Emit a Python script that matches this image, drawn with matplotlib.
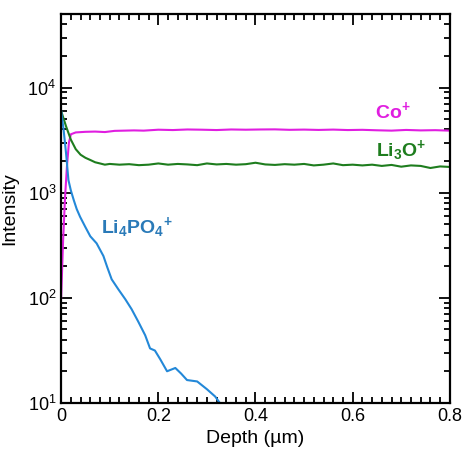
import matplotlib
matplotlib.use("Agg")
import matplotlib.pyplot as plt
from matplotlib.ticker import LogLocator, MultipleLocator, NullFormatter

plt.rcParams['font.family'] = ['Liberation Sans', 'DejaVu Sans']
plt.rcParams['mathtext.fontset'] = 'custom'
plt.rcParams['mathtext.rm'] = 'Liberation Sans'
plt.rcParams['mathtext.bf'] = 'Liberation Sans:bold'
plt.rcParams['mathtext.default'] = 'regular'

# Co+ (magenta)
co_x = [0, 0.004, 0.008, 0.012, 0.016, 0.02, 0.03, 0.05, 0.07, 0.09, 0.11, 0.13, 0.15,
        0.17, 0.2, 0.23, 0.26, 0.29, 0.32, 0.35, 0.38, 0.41, 0.44, 0.47, 0.5, 0.53,
        0.56, 0.59, 0.62, 0.65, 0.68, 0.71, 0.74, 0.77, 0.8]
co_y = [100, 350, 900, 1800, 3000, 3600, 3750, 3800, 3820, 3780, 3880, 3900, 3920,
        3900, 3980, 3950, 4000, 3980, 3950, 4000, 3980, 4000, 4010, 3970, 3990, 3960,
        3990, 3950, 3970, 3930, 3900, 3960, 3920, 3940, 3900]

# Li3O+ (green)
li3o_x = [0, 0.01, 0.02, 0.03, 0.04, 0.05, 0.06, 0.07, 0.08, 0.09, 0.1, 0.12, 0.14,
          0.16, 0.18, 0.2, 0.22, 0.24, 0.26, 0.28, 0.3, 0.32, 0.34, 0.36, 0.38, 0.4,
          0.42, 0.44, 0.46, 0.48, 0.5, 0.52, 0.54, 0.56, 0.58, 0.6, 0.62, 0.64, 0.66,
          0.68, 0.7, 0.72, 0.74, 0.76, 0.78, 0.8]
li3o_y = [6000, 4300, 3200, 2600, 2300, 2150, 2050, 1950, 1900, 1850, 1880, 1850, 1870,
          1830, 1850, 1900, 1850, 1880, 1860, 1830, 1900, 1860, 1880, 1850, 1870, 1930,
          1860, 1840, 1870, 1850, 1880, 1820, 1850, 1900, 1830, 1850, 1820, 1850, 1800,
          1840, 1770, 1820, 1800, 1720, 1780, 1760]

# Li4PO4+ (blue)
li4po4_x = [0, 0.005, 0.01, 0.015, 0.02, 0.026, 0.032, 0.039, 0.05, 0.06, 0.073,
            0.087, 0.095, 0.104, 0.118, 0.132, 0.145, 0.159, 0.173, 0.183, 0.193,
            0.204, 0.218, 0.235, 0.247, 0.259, 0.28, 0.3, 0.317, 0.33]
li4po4_y = [6000, 4000, 2400, 1320, 1050, 850, 700, 590, 470, 385, 330,
            250, 195, 150, 120, 97, 78, 59, 44, 33, 31.5,
            26, 20, 21.5, 19, 16.5, 16, 13.5, 11.5, 9.5]

fig = plt.figure(figsize=(4.74, 4.74), dpi=100)
ax = fig.add_axes([0.129, 0.150, 0.820, 0.820])

ax.plot(co_x, co_y, color='#e01ee0', lw=1.5)
ax.plot(li3o_x, li3o_y, color='#1e7d1e', lw=1.5)
ax.plot(li4po4_x, li4po4_y, color='#2388d8', lw=1.5)

ax.set_yscale('log')
ax.set_xlim(0, 0.8)
ax.set_ylim(10, 5e4)
ax.xaxis.set_minor_locator(MultipleLocator(0.02))
ax.yaxis.set_major_locator(LogLocator(base=10, numticks=10))
ax.yaxis.set_minor_locator(LogLocator(base=10, subs=range(2, 10), numticks=10))
ax.yaxis.set_minor_formatter(NullFormatter())
ax.set_xticks([0, 0.2, 0.4, 0.6, 0.8], ['0', '0.2', '0.4', '0.6', '0.8'])

ax.tick_params(which='both', direction='in', top=True, right=True, width=1.3,
               labelsize=13)
ax.tick_params(which='major', length=8)
ax.tick_params(which='minor', length=4)
for s in ax.spines.values():
    s.set_linewidth(1.6)

ax.set_xlabel('Depth (µm)', fontsize=14)
ax.set_ylabel('Intensity', fontsize=14)
ax.yaxis.set_label_coords(-0.11, 0.5)

ax.text(0.683, 6000, r'$\mathbf{Co^{+}}$', color='#e01ee0', fontsize=14,
        ha='center', va='center')
ax.text(0.70, 2500, r'$\mathbf{Li_{3}O^{+}}$', color='#1e7d1e', fontsize=14,
        ha='center', va='center')
ax.text(0.155, 465, r'$\mathbf{Li_{4}PO_{4}}$$\mathbf{^{+}}$', color='#2a7ab8',
        fontsize=14, ha='center', va='center')

fig.savefig('out.png', dpi=100)
